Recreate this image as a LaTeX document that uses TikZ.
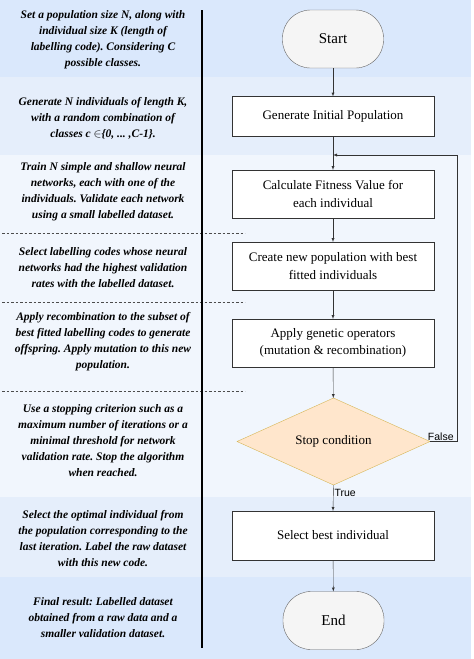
\documentclass[tikz,border=0pt]{standalone}
\usepackage{fontspec}
\setmainfont{Liberation Serif}
\setsansfont{Liberation Sans}
\usetikzlibrary{shapes.geometric,positioning}
\frenchspacing

\definecolor{bandDark}{HTML}{DAE8FC}
\definecolor{bandMid}{HTML}{E5EEFB}
\definecolor{bandLight}{HTML}{F1F6FD}
\definecolor{termFill}{HTML}{F5F5F5}
\definecolor{decFill}{HTML}{FFE6CC}
\definecolor{decLine}{HTML}{D6B656}

\tikzset{
  desc/.style={font=\bfseries\itshape\fontsize{11.5}{16}\selectfont, align=center, inner sep=0pt},
  process/.style={draw=black!80, fill=white, minimum width=202pt, minimum height=48pt,
    align=center, font=\fontsize{13}{17.5}\selectfont, inner sep=2pt, outer sep=0pt},
  terminal/.style={draw=black!60, fill=termFill, rounded corners=28pt, minimum width=101pt,
    minimum height=58pt, font=\fontsize{15}{18}\selectfont, outer sep=0pt},
  decision/.style={diamond, draw=decLine, fill=decFill, aspect=2.2, minimum width=193pt,
    minimum height=87pt, inner sep=0pt, outer sep=0pt, font=\fontsize{13}{16}\selectfont},
  arrow/.style={draw=black!80, -latex},
  branch/.style={font=\sffamily\fontsize{10.5}{12}\selectfont, inner sep=1pt}
}

\begin{document}
\begin{tikzpicture}[x=1pt, y=-1pt]
            \useasboundingbox (0,0) rectangle (474,659);

            % Background bands
            \fill[bandDark] (0,0) rectangle (471,77);
            \fill[bandMid] (0,77) rectangle (471,155);
            \fill[bandLight] (0,155) rectangle (471,497);
            \fill[bandMid] (0,497) rectangle (471,577);
            \fill[bandDark] (0,577) rectangle (471,659);

            % Separators
            \draw[black!70, dash pattern=on 2.5pt off 2pt] (2,233) -- (245,233);
            \draw[black!70, dash pattern=on 2.5pt off 2pt] (2,302) -- (245,302);
            \draw[black!70, dash pattern=on 2.5pt off 2pt] (2,391) -- (245,391);
            \draw[black, line width=2.2pt] (202,10) -- (202,648);

            % Descriptions
            \node[desc] (desc1) at (103,40) {Set a population size N, along with\\individual size K (length of\\labelling code). Considering C\\possible classes.};
            \node[desc] (desc2) at (103,118) {Generate N individuals of length K,\\with a random combination of\\classes c $\in$\{0, ... ,C-1\}.};
            \node[desc] (desc3) at (103,192) {Train N simple and shallow neural\\networks, each with one of the\\individuals. Validate each network\\using a small labelled dataset.};
            \node[desc] (desc4) at (103,268) {Select labelling codes whose neural\\networks had the highest validation\\rates with the labelled dataset.};
            \node[desc] (desc5) at (103,341.5) {Apply recombination to the subset of\\best fitted labelling codes to generate\\offspring. Apply mutation to this new\\population.};
            \node[desc] (desc6) at (103,441) {Use a stopping criterion such as a\\maximum number of iterations or a\\minimal threshold for network\\validation rate. Stop the algorithm\\when reached.};
            \node[desc] (desc7) at (103,539) {Select the optimal individual from\\the population corresponding to the\\last iteration. Label the raw dataset\\with this new code.};
            \node[desc] (desc8) at (103,617.5) {Final result: Labelled dataset\\obtained from a raw data and a\\smaller validation dataset.};

            % Flowchart
            \node[terminal] (start) at (333,39) {Start};
            \node[process, minimum height=40pt] (init) at (333,116.5) {Generate Initial Population};
            \node[process] (fitness) at (333,194) {Calculate Fitness Value for\\each individual};
            \node[process] (newpop) at (333,266) {Create new population with best\\fitted individuals};
            \node[process] (operators) at (333,343) {Apply genetic operators\\(mutation \& recombination)};
            \node[decision] (stop) at (333.5,441.5) {Stop condition};
            \node[process, minimum height=49pt] (best) at (333,535.5) {Select best individual};
            \node[terminal] (end) at (333.5,620.5) {End};
            \coordinate (loopin) at (333,155);

            % Connectors
            \draw[arrow] (start) -- (init);
            \draw[arrow] (init) -- (fitness);
            \draw[arrow] (fitness) -- (newpop);
            \draw[arrow] (newpop) -- (operators);
            \draw[arrow] (operators) -- (stop);
            \draw[arrow] (stop.south) -- node[branch, anchor=west, pos=0.3] {True} (best.north);
            \draw[arrow] (best) -- (end);
            \draw[arrow] (stop.east) -- node[branch, above, pos=0.4] {False} ++(27,0) |- (loopin);
        \end{tikzpicture}
\end{document}
